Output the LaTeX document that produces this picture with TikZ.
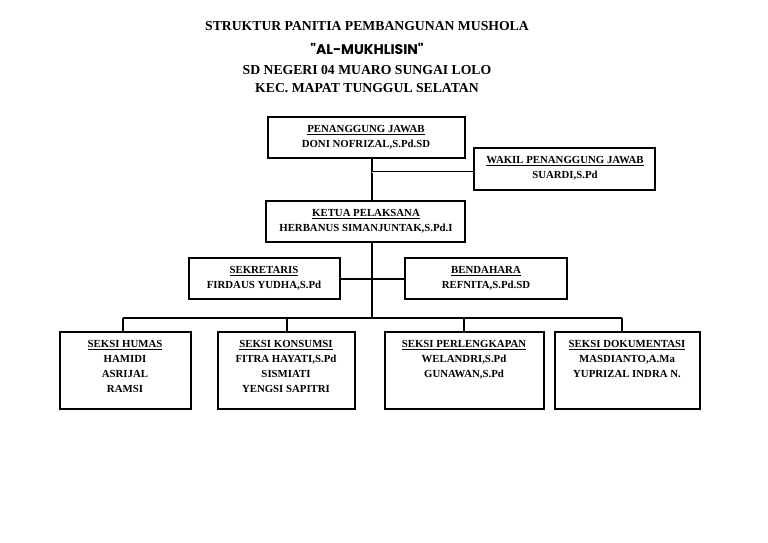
\documentclass[tikz,border=0pt]{standalone}
\usepackage{fontspec}
\setmainfont{Liberation Serif}
\newfontfamily\disp{Poppins Bold}
\begin{document}
\begin{tikzpicture}[x=1pt,y=-1pt,
  bx/.style={draw,line width=1.3pt,fill=white},
  tl/.style={font=\bfseries\fontsize{13.7}{15}\selectfont,anchor=center},
  tx/.style={font=\bfseries\fontsize{10.8}{15}\selectfont,align=center,anchor=north,inner sep=0pt},
  ln/.style={line width=1.3pt}]
\useasboundingbox (0,0) rectangle (768,543);
\node[tl] (t1) at (367,26) {STRUKTUR PANITIA PEMBANGUNAN MUSHOLA};
\node[font=\disp\fontsize{14}{16}\selectfont] (t2) at (367,49) {"AL-MUKHLISIN"};
\node[tl] (t3) at (367,70) {SD NEGERI 04 MUARO SUNGAI LOLO};
\node[tl] (t4) at (367,88) {KEC. MAPAT TUNGGUL SELATAN};
% connectors
\coordinate (j1) at (372,172);
\coordinate (j2) at (372,279);
\coordinate (j3) at (372,318);
\coordinate (b1) at (123,318);
\coordinate (b2) at (287,318);
\coordinate (b3) at (464,318);
\coordinate (b4) at (622,318);
\draw[ln] (372,158) -- (j3);
\draw[line width=0.5pt,double=white,double distance=1pt] (j1) -- (474,172);
\draw[ln] (340,279) -- (405,279);
\draw[ln] (b1) -- (b4);
\foreach \c in {b1,b2,b3,b4}{\draw[ln] (\c) -- ++(0,14);}
% boxes
\draw[bx] (268,117) rectangle (465,158); \node (pj) at (366,125)[tx]{\underline{PENANGGUNG JAWAB}\\DONI NOFRIZAL,S.Pd.SD};
\draw[bx] (474,148) rectangle (655,190); \node (wk) at (565,156)[tx]{\underline{WAKIL PENANGGUNG JAWAB}\\SUARDI,S.Pd};
\draw[bx] (266,201) rectangle (465,242); \node (kt) at (366,209)[tx]{\underline{KETUA PELAKSANA}\\HERBANUS SIMANJUNTAK,S.Pd.I};
\draw[bx] (189,258) rectangle (340,299); \node (sk) at (264,266)[tx]{\underline{SEKRETARIS}\\FIRDAUS YUDHA,S.Pd};
\draw[bx] (405,258) rectangle (567,299); \node (bd) at (486,266)[tx]{\underline{BENDAHARA}\\REFNITA,S.Pd.SD};
\draw[bx] (60,332) rectangle (191,409); \node (hm) at (125,340)[tx]{\underline{SEKSI HUMAS}\\HAMIDI\\ASRIJAL\\RAMSI};
\draw[bx] (218,332) rectangle (355,409); \node (ks) at (286,340)[tx]{\underline{SEKSI KONSUMSI}\\FITRA HAYATI,S.Pd\\SISMIATI\\YENGSI SAPITRI};
\draw[bx] (385,332) rectangle (544,409); \node (pl) at (464,340)[tx]{\underline{SEKSI PERLENGKAPAN}\\WELANDRI,S.Pd\\GUNAWAN,S.Pd};
\draw[bx] (555,332) rectangle (700,409); \node (dk) at (627,340)[tx]{\underline{SEKSI DOKUMENTASI}\\MASDIANTO,A.Ma\\YUPRIZAL INDRA N.};
\end{tikzpicture}
\end{document}
